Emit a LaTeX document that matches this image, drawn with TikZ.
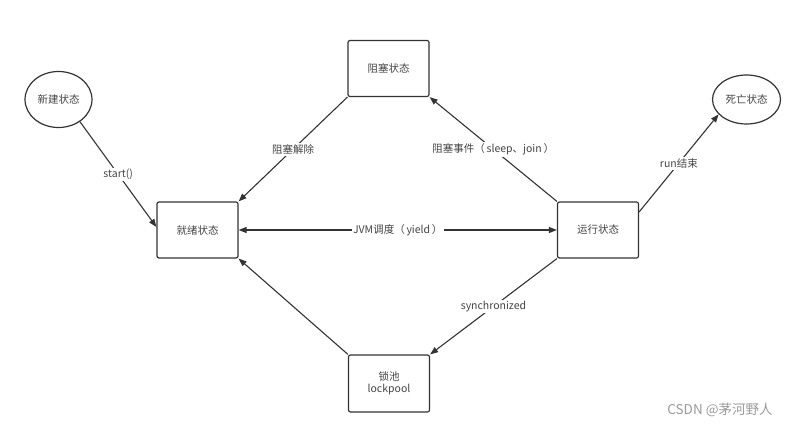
\documentclass[tikz,border=0pt]{standalone}
\usepackage{fontspec}
\setmainfont{Noto Sans CJK SC}
\usetikzlibrary{arrows.meta,shapes.geometric}
\definecolor{linec}{HTML}{333333}
\definecolor{textc}{HTML}{444444}
\definecolor{markc}{HTML}{9A9A9A}
\begin{document}
\begin{tikzpicture}[x=1pt,y=-1pt,
  font=\fontsize{10.5}{12.5}\selectfont, text=textc,
  statebox/.style={draw=linec, line width=1.2pt, rounded corners=2pt, minimum width=81pt, minimum height=56pt, inner sep=0pt, align=center},
  stateell/.style={draw=linec, line width=1.2pt, ellipse, inner sep=0pt},
  conn/.style={draw=linec, line width=1.1pt, -{Triangle[length=8pt,width=6pt]}},
  lab/.style={fill=white, inner sep=1.5pt}]
\useasboundingbox (0,0) rectangle (805,427);
\node[stateell, minimum width=67pt, minimum height=56pt] (new) at (58.5,99.5) {新建状态};
\node[stateell, minimum width=68pt, minimum height=49pt] (dead) at (746.5,99.5) {死亡状态};
\node[statebox] (ready) at (197.5,230) {就绪状态};
\node[statebox] (block) at (388.5,68.5) {阻塞状态};
\node[statebox] (run) at (598,230) {运行状态};
\node[statebox, minimum height=57pt] (lock) at (389,383.5) {锁池\\[-1pt]lockpool};

\draw[conn] (new.-46) -- node[lab] {start()} ([yshift=3pt]ready.west);
\draw[conn] (block.south west) -- node[lab] {阻塞解除} (ready.north east);
\draw[conn] (run.north west) -- node[lab] {阻塞事件（\,sleep、join\,）} (block.south east);
\draw[conn, {Triangle[length=8pt,width=6pt]}-{Triangle[length=8pt,width=6pt]}] (ready.east) -- node[lab] {JVM调度（\,yield\,）} (run.west);
\draw[conn] ([yshift=18pt]run.east) -- node[lab] {run结束} (dead.208);
\draw[conn] (run.south west) -- node[lab] {synchronized} (lock.north east);
\draw[conn] (lock.north west) -- (ready.south east);

\node[text=markc, font=\fontsize{13.5}{15}\selectfont, anchor=center] (mark) at (720,410) {CSDN @茅河野人};
\end{tikzpicture}
\end{document}
